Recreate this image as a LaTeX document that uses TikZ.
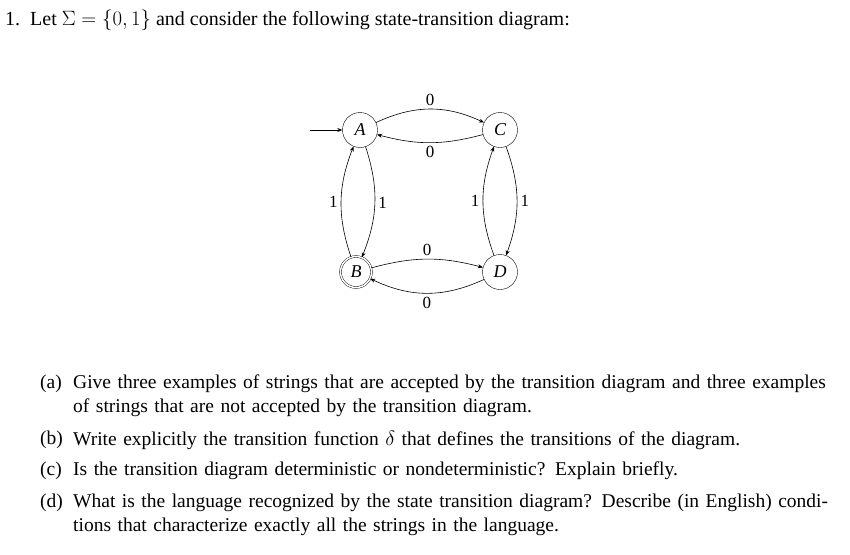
\documentclass[tikz,border=0pt]{standalone}
\usepackage{fontspec}
\setmainfont{Liberation Serif}
\usetikzlibrary{arrows.meta}
\begin{document}
\begin{tikzpicture}[x=1pt,y=-1pt,
  st/.style={circle,draw,minimum size=35pt,inner sep=0pt,font=\fontsize{18}{20}\selectfont\itshape},
  acc/.style={st,double,double distance=1.5pt,minimum size=31pt},
  tr/.style={-{Stealth[length=5pt,width=4pt]},line width=0.6pt},
  lb/.style={font=\fontsize{17}{18}\selectfont},
  tag/.style={anchor=north west,inner sep=0pt,font=\fontsize{19.5}{24}\selectfont},
  txt/.style={anchor=north west,inner sep=0pt,font=\fontsize{19.5}{24}\selectfont,text width=765pt,align=left}]
\useasboundingbox (0,0) rectangle (850,554);
\node[anchor=west,inner sep=0pt,font=\fontsize{20}{22}\selectfont] (t) at (5,20) {1.\ \ Let $\Sigma=\{0,1\}$ and consider the following state-transition diagram:};
\node[st] (A) at (360,130) {A};
\node[st] (C) at (500,130) {C};
\node[acc] (B) at (356,272) {B};
\node[st] (D) at (500,272) {D};
\coordinate (s) at (310,130);
\draw[tr] (s) -- (A);
\draw[tr] (A) to[bend left=25] node[lb,above] {0} (C);
\draw[tr] (C) to[bend left=15] node[lb,below] {0} (A);
\draw[tr] (B) to[bend left=15] node[lb,above] {0} (D);
\draw[tr] (D) to[bend left=25] node[lb,below] {0} (B);
\draw[tr] (A) to[bend left=20] node[lb,right] {1} (B);
\draw[tr] (B) to[bend left=20] node[lb,left] {1} (A);
\draw[tr] (C) to[bend left=20] node[lb,right] {1} (D);
\draw[tr] (D) to[bend left=20] node[lb,left] {1} (C);
\node[tag] (ta) at (40,375) {(a)};
\node[txt] (a) at (73,375) {Give three examples of strings that are accepted by the transition diagram and three examples of strings that are not accepted by the transition diagram.};
\node[tag] (tb) at (40,431) {(b)};
\node[txt] (b) at (73,431) {Write explicitly the transition function $\delta$ that defines the transitions of the diagram.};
\node[tag] (tc) at (40,462) {(c)};
\node[txt] (c) at (73,462) {Is the transition diagram deterministic or nondeterministic? Explain briefly.};
\node[tag] (td) at (40,494) {(d)};
\node[txt] (d) at (73,494) {What is the language recognized by the state transition diagram? Describe (in English) conditions that characterize exactly all the strings in the language.};
\end{tikzpicture}
\end{document}
